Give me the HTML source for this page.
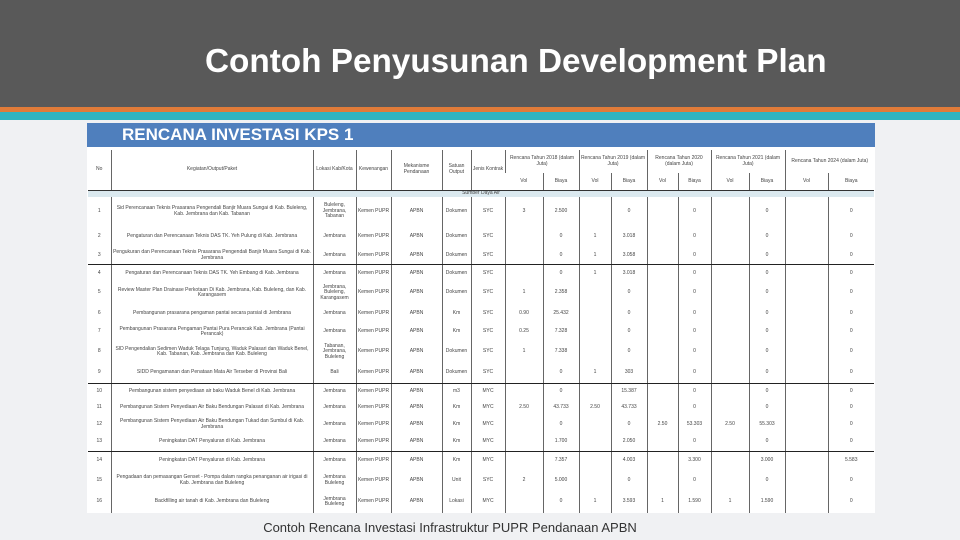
<!DOCTYPE html>
<html><head><meta charset="utf-8"><style>
*{margin:0;padding:0;box-sizing:border-box}
body{width:960px;height:540px;overflow:hidden;background:#f0f1f3;font-family:"Liberation Sans",sans-serif;position:relative}
#hdr{position:absolute;left:0;top:0;width:960px;height:107px;background:#595959}
#title{position:absolute;left:205px;top:43px;font-size:33.3px;font-weight:bold;color:#fff;white-space:nowrap}
#orange{position:absolute;left:0;top:107px;width:960px;height:5px;background:#e07b39}
#teal{position:absolute;left:0;top:112px;width:960px;height:8px;background:#2fb4c0}
#sheet{position:absolute;left:87px;top:123px;width:788px;height:390px;background:#fff;overflow:hidden}
#banner{position:absolute;left:0;top:0;width:788px;height:24px;background:#4f7fbd;color:#fff;font-weight:bold;font-size:17px;padding-left:35px;line-height:24px}
table{position:absolute;left:1px;top:27px;border-collapse:collapse;table-layout:fixed;font-size:5px;color:#444}
td{border-left:1px solid #666;text-align:center;vertical-align:middle;overflow:hidden;line-height:5.5px;padding:0 1px}
td:first-child{border-left:none}
tr.h1 td{height:23px}
tr.h2 td{height:17px;border-bottom:1px solid #333}
tr.sda td{height:7px;background:#dbe9ef;border-left:none}
tr.thick td{border-bottom:1.5px solid #222}
#cap{position:absolute;left:0;width:900px;top:520px;text-align:center;font-size:13px;color:#333}
</style></head><body>
<div id="hdr"></div>
<div id="title">Contoh Penyusunan Development Plan</div>
<div id="orange"></div>
<div id="teal"></div>
<div id="sheet">
<div id="banner">RENCANA INVESTASI KPS 1</div>
<table>
<colgroup><col style="width:23px"><col style="width:202px"><col style="width:43px"><col style="width:35px"><col style="width:51px"><col style="width:29px"><col style="width:34px"><col style="width:38px"><col style="width:36px"><col style="width:32px"><col style="width:36px"><col style="width:31px"><col style="width:33px"><col style="width:38px"><col style="width:36px"><col style="width:43px"><col style="width:46px"></colgroup>
<tr class="h1"><td rowspan="2" style="border-bottom:1px solid #333">No</td><td rowspan="2" style="border-bottom:1px solid #333">Kegiatan/Output/Paket</td><td rowspan="2" style="border-bottom:1px solid #333">Lokasi Kab/Kota</td><td rowspan="2" style="border-bottom:1px solid #333">Kewenangan</td><td rowspan="2" style="border-bottom:1px solid #333">Mekanisme Pendanaan</td><td rowspan="2" style="border-bottom:1px solid #333">Satuan Output</td><td rowspan="2" style="border-bottom:1px solid #333">Jenis Kontrak</td><td colspan="2">Rencana Tahun 2018 (dalam Juta)</td><td colspan="2">Rencana Tahun 2019 (dalam Juta)</td><td colspan="2">Rencana Tahun 2020 (dalam Juta)</td><td colspan="2">Rencana Tahun 2021 (dalam Juta)</td><td colspan="2">Rencana Tahun 2024 (dalam Juta)</td></tr>
<tr class="h2"><td>Vol</td><td>Biaya</td><td>Vol</td><td>Biaya</td><td>Vol</td><td>Biaya</td><td>Vol</td><td>Biaya</td><td>Vol</td><td>Biaya</td></tr>
<tr class="sda"><td colspan="17">Sumber Daya Air</td></tr>
<tbody id="rows"></tbody>
</table>
</div>
<div id="cap">Contoh Rencana Investasi Infrastruktur PUPR Pendanaan APBN</div>
<script>
const heights=[29,22,16,18,22,19,18,22,20,17,16,17,18,19,21,22];
const thick=[2,8,12];
const rows=[
["1","Sid Perencanaan Teknis Prasarana Pengendali Banjir Muara Sungai di Kab. Buleleng, Kab. Jembrana dan Kab. Tabanan","Buleleng, Jembrana, Tabanan","Kemen PUPR","APBN","Dokumen","SYC","3","2.500","","0","","0","","0","","0"],
["2","Pengaturan dan Perencanaan Teknis DAS TK. Yeh Pulung di Kab. Jembrana","Jembrana","Kemen PUPR","APBN","Dokumen","SYC","","0","1","3.018","","0","","0","","0"],
["3","Pengukuran dan Perencanaan Teknis Prasarana Pengendali Banjir Muara Sungai di Kab. Jembrana","Jembrana","Kemen PUPR","APBN","Dokumen","SYC","","0","1","3.058","","0","","0","","0"],
["4","Pengaturan dan Perencanaan Teknis DAS TK. Yeh Embang di Kab. Jembrana","Jembrana","Kemen PUPR","APBN","Dokumen","SYC","","0","1","3.018","","0","","0","","0"],
["5","Review Master Plan Drainase Perkotaan Di Kab. Jembrana, Kab. Buleleng, dan Kab. Karangasem","Jembrana, Buleleng, Karangasem","Kemen PUPR","APBN","Dokumen","SYC","1","2.358","","0","","0","","0","","0"],
["6","Pembangunan prasarana pengaman pantai secara parsial di Jembrana","Jembrana","Kemen PUPR","APBN","Km","SYC","0.90","25.432","","0","","0","","0","","0"],
["7","Pembangunan Prasarana Pengaman Pantai Pura Perancak Kab. Jembrana (Pantai Perancak)","Jembrana","Kemen PUPR","APBN","Km","SYC","0.25","7.328","","0","","0","","0","","0"],
["8","SID Pengendalian Sedimen Waduk Telaga Tunjung, Waduk Palasari dan Waduk Benel, Kab. Tabanan, Kab. Jembrana dan Kab. Buleleng","Tabanan, Jembrana, Buleleng","Kemen PUPR","APBN","Dokumen","SYC","1","7.338","","0","","0","","0","","0"],
["9","SIDD Pengamanan dan Penataan Mata Air Terseber di Provinsi Bali","Bali","Kemen PUPR","APBN","Dokumen","SYC","","0","1","303","","0","","0","","0"],
["10","Pembangunan sistem penyediaan air baku Waduk Benel di Kab. Jembrana","Jembrana","Kemen PUPR","APBN","m3","MYC","","0","","15.387","","0","","0","","0"],
["11","Pembangunan Sistem Penyediaan Air Baku Bendungan Palasari di Kab. Jembrana","Jembrana","Kemen PUPR","APBN","Km","MYC","2.50","43.733","2.50","43.733","","0","","0","","0"],
["12","Pembangunan Sistem Penyediaan Air Baku Bendungan Tukad dan Sumbul di Kab. Jembrana","Jembrana","Kemen PUPR","APBN","Km","MYC","","0","","0","2.50","53.303","2.50","55.303","","0"],
["13","Peningkatan DAT Penyaluran di Kab. Jembrana","Jembrana","Kemen PUPR","APBN","Km","MYC","","1.700","","2.050","","0","","0","","0"],
["14","Peningkatan DAT Penyaluran di Kab. Jembrana","Jembrana","Kemen PUPR","APBN","Km","MYC","","7.357","","4.003","","3.300","","3.000","","5.583"],
["15","Pengadaan dan pemasangan Genset - Pompa dalam rangka penanganan air irigasi di Kab. Jembrana dan Buleleng","Jembrana Buleleng","Kemen PUPR","APBN","Unit","SYC","2","5.000","","0","","0","","0","","0"],
["16","Backfilling air tanah di Kab. Jembrana dan Buleleng","Jembrana Buleleng","Kemen PUPR","APBN","Lokasi","MYC","","0","1","3.593","1","1.590","1","1.590","","0"]
];
const tb=document.getElementById('rows');
rows.forEach((r,i)=>{
  const tr=document.createElement('tr');
  
  
  if(thick.includes(i))tr.className='thick';
  r.forEach((c,j)=>{const td=document.createElement('td');td.textContent=c;td.style.height=heights[i]+'px';tr.appendChild(td);});
  tb.appendChild(tr);
});
</script>
</body></html>
